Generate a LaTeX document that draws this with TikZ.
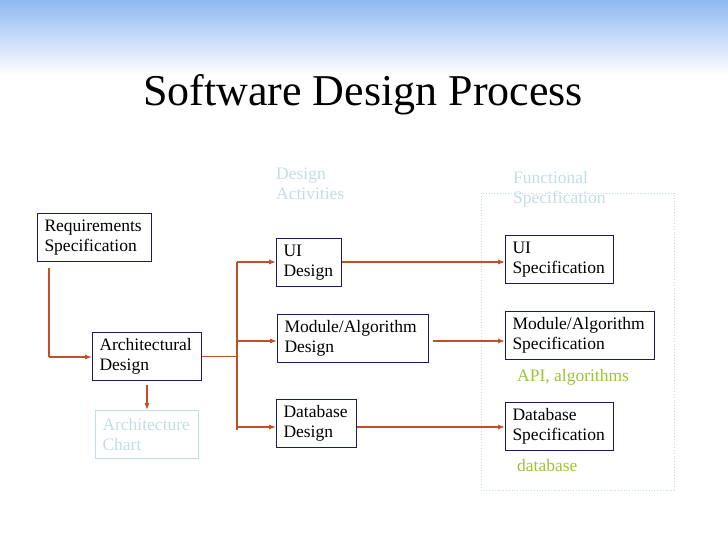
\documentclass[tikz,border=0pt]{standalone}
\usepackage{fontspec}
\setmainfont{Liberation Serif}
\usetikzlibrary{arrows.meta}
\definecolor{arr}{HTML}{C0502A}
\definecolor{nav}{HTML}{1A1A60}
\definecolor{pale}{HTML}{C3DEE3}
\definecolor{grn}{HTML}{9CC23A}
\definecolor{sky}{HTML}{8FB8F0}
\begin{document}
\begin{tikzpicture}[x=1pt,y=-1pt,
  box/.style={draw=nav,line width=1pt,anchor=north west,inner xsep=7pt,inner ysep=0pt,align=left,minimum height=48pt,font=\fontsize{17.5}{20}\selectfont},
  lbl/.style={anchor=north west,inner sep=0pt,align=left,font=\fontsize{17.5}{20}\selectfont},
  ar/.style={draw=arr,line width=1.1pt,-{Latex[length=7pt,width=5pt]}},
  ln/.style={draw=arr,line width=1.1pt}]
\useasboundingbox (0,0) rectangle (728,546);
\shade[top color=sky,bottom color=white] (0,0) rectangle (728,75);
\node (title) at (363,95) {\fontsize{44}{50}\selectfont Software Design Process};
\draw[pale,dotted,line width=0.8pt] (481,193) rectangle (674,490);
\node[lbl,text=pale] (da) at (276,168) {Design\\Activities};
\node[lbl,text=pale] (fs) at (513,171) {Functional\\Specification};
\node[box,text width=100pt] (req) at (37,213) {Requirements\\Specification};
\node[box,text width=95pt] (arch) at (92,332) {Architectural\\Design};
\node[box,draw=pale,text=pale,text width=89pt] (chart) at (95,410) {Architecture\\Chart};
\node[box,text width=51pt] (uid) at (276,238) {UI\\Design};
\node[box,text width=137pt] (modd) at (277,314) {Module/Algorithm\\Design};
\node[box,text width=66pt] (dbd) at (276,399) {Database\\Design};
\node[box,text width=94pt] (uis) at (505,235) {UI\\Specification};
\node[box,text width=135pt] (mods) at (505,311) {Module/Algorithm\\Specification};
\node[box,text width=94pt] (dbs) at (505,402) {Database\\Specification};
\node[lbl,text=grn] (api) at (517,369) {API, algorithms};
\node[lbl,text=grn] (dbt) at (517,459) {database};
\draw[ln] (49,268) -- (49,357) coordinate (rq);
\draw[ar] (rq) -- (rq -| arch.west);
\draw[ar] (arch.south) ++(0,4) -- (chart.north);
\draw[ln] (arch.east) -- (arch.east -| 237,0);
\draw[ln] (237,262) -- (237,430);
\draw[ar] (237,262) -- (237,262 -| uid.west);
\draw[ar] (237,341) -- (237,341 -| modd.west);
\draw[ar] (237,427) -- (237,427 -| dbd.west);
\draw[ar] (uid.east |- 0,262) -- (uis.west |- 0,262);
\draw[ar] (modd.east |- 0,341) ++(4,0) -- (mods.west |- 0,341);
\draw[ar] (dbd.east |- 0,427) -- (dbs.west |- 0,427);
\end{tikzpicture}
\end{document}
